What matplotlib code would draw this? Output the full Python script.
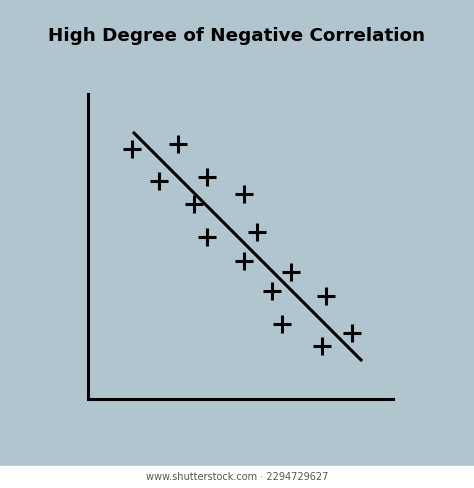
import matplotlib
matplotlib.use("Agg")
import matplotlib.pyplot as plt
from matplotlib.patches import Rectangle

x_vals = [1.44, 2.95, 2.33, 3.90, 3.48, 5.11, 3.90, 5.54, 5.11, 6.66, 6.03, 7.80, 6.36, 8.66, 7.67]
y_vals = [8.20, 8.36, 7.15, 7.28, 6.39, 6.72, 5.31, 5.48, 4.52, 4.16, 3.54, 3.38, 2.46, 2.16, 1.74]
line_x = [1.51, 8.95]
line_y = [8.72, 1.28]
title = "High Degree of Negative Correlation"

bg = "#b1c5cf"
fig = plt.figure(figsize=(4.74, 4.89), dpi=100, facecolor=bg)
fig.patches.append(Rectangle((0, 0), 1, 22/489, transform=fig.transFigure, color="white", zorder=0))
fig.text(0.5, 12/489, "www.shutterstock.com · 2294729627", ha="center", va="center", fontsize=7, color="#555555")
fig.text(0.5, 1 - 36/489, title, ha="center", va="center", fontsize=13.2, fontweight="bold")

ax = fig.add_axes([88/474, 89/489, 305/474, 305/489])
ax.set_facecolor(bg)
ax.set_xlim(0, 10)
ax.set_ylim(0, 10)
for s in ["top", "right"]:
    ax.spines[s].set_visible(False)
for s in ["left", "bottom"]:
    ax.spines[s].set_linewidth(2.2)
ax.set_xticks([])
ax.set_yticks([])
ax.plot(x_vals, y_vals, linestyle="none", marker="+", markersize=13, mew=2.2, color="black")
ax.plot(line_x, line_y, color="black", lw=2.2)
fig.savefig("out.png", dpi=100, facecolor=bg)
